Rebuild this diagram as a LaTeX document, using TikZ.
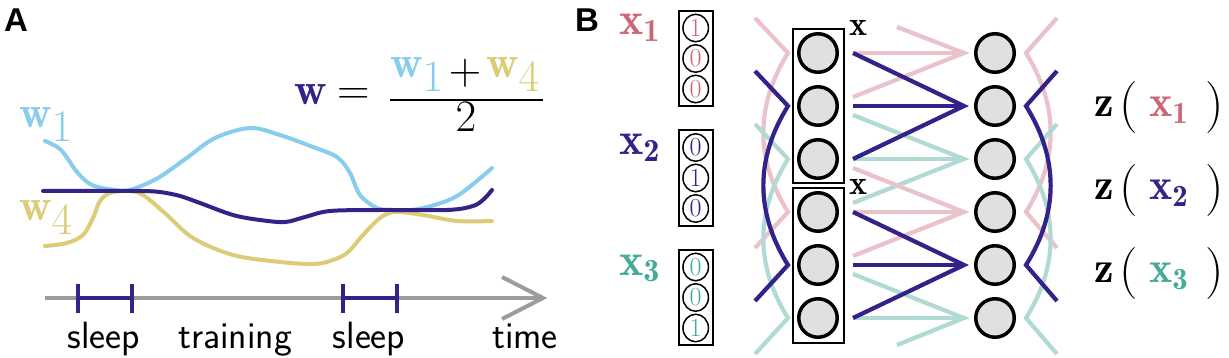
\RequirePackage{fix-cm}
\documentclass[tikz,border=0pt]{standalone}
\usepackage{exscale}
\usepackage{fontspec}
\newfontfamily\labfont{Liberation Sans}
\usetikzlibrary{shapes.geometric,calc}
\definecolor{rose}{HTML}{CC6677}
\definecolor{indig}{HTML}{332288}
\definecolor{tealc}{HTML}{44AA99}
\definecolor{cyanc}{HTML}{88CCEE}
\definecolor{sandc}{HTML}{DDCC77}
\definecolor{cellgray}{HTML}{E0E0E0}
\definecolor{axisgray}{HTML}{9C9C9C}
\tikzset{
  curve/.style={line width=4pt, line cap=round, line join=round},
  hid/.style={circle, draw=black, fill=cellgray, line width=3.5pt, minimum size=38.5pt, inner sep=0pt},
  inp/.style={ellipse, draw=black, line width=1.5pt, minimum width=25.5pt, minimum height=27.5pt, inner sep=0pt, font=\fontsize{26}{26}\selectfont},
  boxframe/.style={draw=black, line width=2pt},
  conn/.style={line width=4.2pt, line join=miter},
  lpink/.style={conn, draw=rose!40},
  lteal/.style={conn, draw=tealc!42},
  lblue/.style={conn, draw=indig},
  mathlab/.style={inner sep=0pt, anchor=base west},
  bigm/.style={mathlab, font=\fontsize{45}{50}\selectfont},
  zm/.style={mathlab, font=\fontsize{44}{48}\selectfont},
  paren/.style={inner sep=0pt, anchor=center, font=\fontsize{52}{52}\selectfont},
  sleeptext/.style={inner sep=0pt, anchor=base, font=\sffamily\fontsize{38}{38}\selectfont},
  panel/.style={inner sep=0pt, anchor=base west, font=\labfont\bfseries\fontsize{33}{33}\selectfont},
  axisline/.style={draw=axisgray, line width=4pt},
  sleepbar/.style={draw=indig, line width=3.5pt},
}
\begin{document}
\begin{tikzpicture}[x=1pt,y=-1pt]
\useasboundingbox[fill=white] (0,0) rectangle (1229,358);

% ---------------- Panel A ----------------
\node[panel] (labA) at (4,32) {A};

% curves
\draw[curve, cyanc] plot[smooth, tension=0.55] coordinates {(45,141) (61,150) (77,172) (92,185) (115,190) (130,190) (158,178) (188,157) (215,138) (250,128) (280,135) (313,147) (337,157) (350,173) (360,195) (377,208) (395,211) (423,208) (457,196) (492,168)};
\draw[curve, sandc] plot[smooth, tension=0.55] coordinates {(45,246) (67,243) (83,235) (93,218) (100,201) (110,193) (127,191) (143,195) (167,215) (193,238) (233,255) (280,262) (313,264) (330,261) (347,253) (363,235) (380,218) (395,212) (423,215) (457,221) (492,221)};
\draw[curve, indig] plot[smooth, tension=0.55] coordinates {(43,191) (100,191) (140,191) (160,192) (180,196) (200,203) (233,215) (260,220) (285,222) (305,217) (330,211) (380,210) (447,210) (473,206) (484,199) (492,190)};

\node[bigm] (lw1) at (19,128) {$\textcolor{cyanc}{\mathbf{w}_{\textstyle 1}}$};
\node[bigm] (lw4) at (19,221) {$\textcolor{sandc}{\mathbf{w}_{\textstyle 4}}$};

% formula w = (w1 + w4)/2
\node[bigm, text=indig] (fw) at (294,105) {$\mathbf{w}$};
\node[bigm] (feq) at (337,105) {$=$};
\node[bigm, text=cyanc] (fw1) at (390,78) {$\mathbf{w}_{\textstyle 1}$};
\node[inner sep=0pt, anchor=center, font=\fontsize{45}{50}\selectfont] (fplus) at (465,73) {$+$};
\node[bigm, text=sandc] (fw4) at (486,78) {$\mathbf{w}_{\textstyle 4}$};
\node[inner sep=0pt, anchor=base, font=\fontsize{45}{50}\selectfont] (ftwo) at (466,132) {$2$};
\coordinate (barL) at (390,100);
\coordinate (barR) at (543,100);
\draw[line width=1.8pt] (barL) -- (barR);

% time axis
\coordinate (ax0) at (45,298);
\coordinate (ax1) at (543,298);
\draw[axisline] (ax0) -- (ax1);
\draw[axisline, line join=miter] ([shift={(-41,-21)}]ax1) -- (ax1) -- ([shift={(-41,21)}]ax1);

\coordinate (s1a) at (78,298);  \coordinate (s1b) at (132,298);
\coordinate (s2a) at (343,298); \coordinate (s2b) at (397,298);
\foreach \c in {s1a,s1b,s2a,s2b}{\draw[sleepbar] ([shift={(0,-14)}]\c) -- ([shift={(0,15)}]\c);}
\draw[sleepbar] (s1a) -- (s1b);
\draw[sleepbar] (s2a) -- (s2b);

\node[sleeptext] (tsl1) at (104,348) {sleep};
\node[sleeptext] (ttr) at (235,348) {training};
\node[sleeptext] (tsl2) at (369,348) {sleep};
\node[sleeptext] (ttime) at (525,348) {time};

% ---------------- Panel B ----------------
\node[panel] (labB) at (575,32) {B};

% input labels
\node[mathlab, font=\fontsize{46}{46}\selectfont] (lx1) at (619,35) {$\textcolor{rose}{\mathbf{x}_{\mathbf{1}}}$};
\node[mathlab, font=\fontsize{46}{46}\selectfont] (lx2) at (619,155) {$\textcolor{indig}{\mathbf{x}_{\mathbf{2}}}$};
\node[mathlab, font=\fontsize{46}{46}\selectfont] (lx3) at (619,275) {$\textcolor{tealc}{\mathbf{x}_{\mathbf{3}}}$};

% input vectors
\draw[boxframe] (678.7,10.7) rectangle (712.7,106);
\draw[boxframe] (678.7,130) rectangle (712.7,225.7);
\draw[boxframe] (678.7,249.7) rectangle (712.7,344.7);
\node[inp, text=rose] (a1) at (695.7,28) {$1$};
\node[inp, text=rose] (a2) at (695.7,58.5) {$0$};
\node[inp, text=rose] (a3) at (695.7,89) {$0$};
\node[inp, text=indig] (b1) at (695.7,147.5) {$0$};
\node[inp, text=indig] (b2) at (695.7,178) {$1$};
\node[inp, text=indig] (b3) at (695.7,208.5) {$0$};
\node[inp, text=tealc] (c1) at (695.7,267) {$0$};
\node[inp, text=tealc] (c2) at (695.7,297.5) {$0$};
\node[inp, text=tealc] (c3) at (695.7,328) {$1$};

% hidden and output neurons
\draw[boxframe] (792.7,29) rectangle (844,183);
\draw[boxframe] (792.7,188) rectangle (844,343);
\foreach \i/\y in {1/53,2/106,3/159,4/212,5/265,6/318}{
  \node[hid] (h\i) at (818,\y) {};
  \node[hid] (o\i) at (995,\y) {};
}
\node[mathlab, font=\fontsize{34}{34}\selectfont] (hx1) at (849,36) {$\mathbf{x}$};
\node[mathlab, font=\fontsize{34}{34}\selectfont] (hx2) at (849,195) {$\mathbf{x}$};

% free ends
\coordinate (ftop) at (897,27);
\coordinate (fbot) at (897,345);

% light connections hidden -> output
\draw[lpink] (ftop) -- ([xshift=-10pt]o1.west) -- ([shift={(14,-9)}]h2.east);
\draw[lpink] ([xshift=14pt]h1.east) -- ([xshift=-10pt]o1.west);
\draw[lteal] ([shift={(14,9)}]h2.east) -- ([xshift=-10pt]o3.west) -- ([shift={(14,-9)}]h4.east);
\draw[lteal] ([xshift=14pt]h3.east) -- ([xshift=-10pt]o3.west);
\draw[lpink] ([shift={(14,9)}]h3.east) -- ([xshift=-10pt]o4.west) -- ([shift={(14,-9)}]h5.east);
\draw[lpink] ([xshift=14pt]h4.east) -- ([xshift=-10pt]o4.west);
\draw[lteal] ([shift={(14,9)}]h5.east) -- ([xshift=-10pt]o6.west) -- (fbot);
\draw[lteal] ([xshift=14pt]h6.east) -- ([xshift=-10pt]o6.west);

% light chevrons left and right
\draw[lpink] ([shift={(-42,-35)}]h1.west) -- ([xshift=-9pt]h1.west) to[bend right=32] ([xshift=-9pt]h4.west) -- ([shift={(-42,36)}]h4.west);
\draw[lteal] ([shift={(-42,-35)}]h3.west) -- ([xshift=-9pt]h3.west) to[bend right=32] ([xshift=-9pt]h6.west) -- ([shift={(-42,36)}]h6.west);
\draw[lpink] ([shift={(41,-35)}]o1.east) -- ([xshift=10pt]o1.east) to[bend left=32] ([xshift=10pt]o4.east) -- ([shift={(41,36)}]o4.east);
\draw[lteal] ([shift={(41,-35)}]o3.east) -- ([xshift=10pt]o3.east) to[bend left=32] ([xshift=10pt]o6.east) -- ([shift={(41,36)}]o6.east);

% dark blue connections
\draw[lblue] ([shift={(-42,-35)}]h2.west) -- ([xshift=-9pt]h2.west) to[bend right=32] ([xshift=-9pt]h5.west) -- ([shift={(-42,36)}]h5.west);
\draw[lblue] ([shift={(41,-35)}]o2.east) -- ([xshift=10pt]o2.east) to[bend left=32] ([xshift=10pt]o5.east) -- ([shift={(41,36)}]o5.east);
\draw[lblue] ([xshift=14pt]h1.east) -- ([xshift=-10pt]o2.west) -- ([xshift=14pt]h3.east);
\draw[lblue] ([xshift=14pt]h2.east) -- ([xshift=-10pt]o2.west);
\draw[lblue] ([xshift=14pt]h4.east) -- ([xshift=-10pt]o5.west) -- ([xshift=14pt]h6.east);
\draw[lblue] ([xshift=14pt]h5.east) -- ([xshift=-10pt]o5.west);

% output labels z( x_i )
\foreach \i/\yb/\c in {1/117/rose, 2/200/indig, 3/283/tealc}{
  \node[zm] (zz\i) at (1094,\yb) {$\mathbf{z}$};
  \node[paren] (zo\i) at (1128.5,\yb-9.5) {(};
  \node[zm, text=\c] (zx\i) at (1149,\yb) {$\mathbf{x}_{\mathbf{\i}}$};
  \node[paren] (zc\i) at (1215,\yb-9.5) {)};
}
\end{tikzpicture}
\end{document}
